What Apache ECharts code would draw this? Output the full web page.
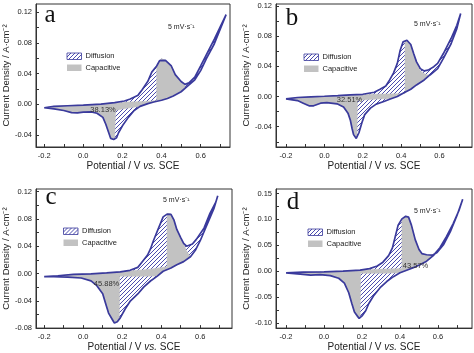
<!DOCTYPE html>
<html><head><meta charset="utf-8">
<script src="https://cdn.jsdelivr.net/npm/echarts@6/dist/echarts.min.js"></script>
<style>html,body{margin:0;padding:0;background:#fff}#c{width:474px;height:353px}</style>
</head><body><div id="c"></div>
<script>
// ---------- data (potential V, current density A/cm2) ----------
const aFwd = [[-0.20,-0.0044],[-0.15,-0.0027],[-0.08,-0.0018],[0.00,-0.0009],[0.09,0.0004],[0.16,0.0022],[0.21,0.0044],[0.24,0.007],[0.28,0.012],[0.30,0.0187],[0.33,0.030],[0.35,0.042],[0.375,0.050],[0.38,0.052],[0.39,0.057],[0.40,0.0596],[0.42,0.0573],[0.45,0.050],[0.47,0.0387],[0.50,0.0298],[0.52,0.026],[0.54,0.028],[0.57,0.0356],[0.60,0.050],[0.63,0.065],[0.67,0.085],[0.70,0.101],[0.73,0.117]];
const aRev = [[0.73,0.117],[0.70,0.098],[0.67,0.079],[0.63,0.060],[0.60,0.044],[0.57,0.032],[0.53,0.023],[0.50,0.0164],[0.46,0.011],[0.43,0.0076],[0.40,0.0053],[0.36,0.003],[0.33,0.001],[0.29,-0.0027],[0.26,-0.008],[0.23,-0.017],[0.20,-0.028],[0.18,-0.037],[0.17,-0.0436],[0.155,-0.0458],[0.14,-0.0444],[0.13,-0.037],[0.115,-0.026],[0.10,-0.017],[0.07,-0.0116],[0.04,-0.0098],[0.00,-0.0102],[-0.03,-0.011],[-0.06,-0.0107],[-0.10,-0.008],[-0.15,-0.0058],[-0.20,-0.0044]];
const aCapFwd = [[-0.20,-0.0044],[-0.15,-0.0027],[-0.08,-0.0018],[0.00,-0.0009],[0.09,0.0004],[0.16,0.0022],[0.22,0.003],[0.28,0.0035],[0.33,0.004],[0.375,0.005],[0.375,0.050],[0.38,0.052],[0.39,0.057],[0.40,0.0596],[0.42,0.0573],[0.45,0.050],[0.47,0.0387],[0.50,0.0298],[0.52,0.026]];
const aCapRev = [[0.52,0.021],[0.50,0.0164],[0.46,0.011],[0.43,0.0076],[0.40,0.0053],[0.36,0.003],[0.33,0.001],[0.30,-0.002],[0.25,-0.004],[0.20,-0.006],[0.165,-0.008],[0.16,-0.0455],[0.155,-0.0458],[0.14,-0.0444],[0.13,-0.037],[0.115,-0.026],[0.10,-0.017],[0.07,-0.0116],[0.04,-0.0098],[0.00,-0.0102],[-0.03,-0.011],[-0.06,-0.0107],[-0.10,-0.008],[-0.15,-0.0058],[-0.20,-0.0044]];

const bFwd = [[-0.20,-0.003],[-0.14,-0.0013],[-0.07,-0.0004],[0.00,0.0004],[0.07,0.0013],[0.135,0.0022],[0.20,0.003],[0.26,0.0057],[0.29,0.0097],[0.32,0.014],[0.34,0.022],[0.36,0.031],[0.38,0.044],[0.395,0.0615],[0.41,0.0725],[0.42,0.0738],[0.43,0.0747],[0.45,0.069],[0.465,0.057],[0.48,0.046],[0.50,0.037],[0.52,0.034],[0.54,0.035],[0.57,0.0396],[0.59,0.044],[0.62,0.057],[0.66,0.077],[0.69,0.0945],[0.71,0.11]];
const bRev = [[0.71,0.11],[0.69,0.09],[0.66,0.070],[0.62,0.0505],[0.59,0.037],[0.55,0.0286],[0.52,0.022],[0.48,0.0154],[0.45,0.0097],[0.41,0.0044],[0.38,0.0],[0.34,-0.0035],[0.31,-0.0066],[0.27,-0.010],[0.24,-0.0154],[0.21,-0.024],[0.195,-0.035],[0.18,-0.048],[0.166,-0.0555],[0.152,-0.0505],[0.144,-0.042],[0.135,-0.031],[0.123,-0.022],[0.10,-0.014],[0.066,-0.0097],[0.013,-0.008],[-0.02,-0.0088],[-0.056,-0.0123],[-0.08,-0.0123],[-0.11,-0.0088],[-0.14,-0.0053],[-0.20,-0.003]];
const bCapFwd = [[-0.20,-0.003],[-0.14,-0.0013],[-0.07,-0.0004],[0.00,0.0004],[0.07,0.0013],[0.135,0.0022],[0.17,0.0026],[0.25,0.003],[0.33,0.0035],[0.42,0.004],[0.42,0.0738],[0.43,0.0747],[0.45,0.069],[0.465,0.057],[0.48,0.046],[0.50,0.034],[0.53,0.029],[0.55,0.0286]];
const bCapRev = [[0.55,0.0286],[0.52,0.022],[0.48,0.0154],[0.45,0.0097],[0.41,0.0044],[0.38,0.0],[0.34,-0.0030],[0.30,-0.003],[0.24,-0.004],[0.172,-0.005],[0.17,-0.053],[0.166,-0.0555],[0.152,-0.0505],[0.144,-0.042],[0.135,-0.031],[0.123,-0.022],[0.10,-0.014],[0.066,-0.0097],[0.013,-0.008],[-0.02,-0.0088],[-0.056,-0.0123],[-0.08,-0.0123],[-0.11,-0.0088],[-0.14,-0.0053],[-0.20,-0.003]];

const cFwd = [[-0.20,-0.0047],[-0.13,-0.0033],[-0.05,-0.0014],[0.04,-0.0005],[0.12,0.0009],[0.19,0.0024],[0.24,0.0047],[0.28,0.009],[0.30,0.016],[0.33,0.027],[0.345,0.036],[0.36,0.048],[0.38,0.062],[0.40,0.076],[0.41,0.083],[0.43,0.087],[0.44,0.088],[0.45,0.0866],[0.465,0.0786],[0.48,0.0645],[0.50,0.0527],[0.515,0.0442],[0.53,0.040],[0.56,0.0433],[0.58,0.050],[0.62,0.0668],[0.65,0.088],[0.68,0.1045],[0.69,0.114]];
const cRev = [[0.69,0.114],[0.67,0.095],[0.635,0.0715],[0.60,0.048],[0.575,0.034],[0.55,0.0245],[0.515,0.0174],[0.48,0.0127],[0.45,0.008],[0.41,0.0033],[0.38,-0.0038],[0.345,-0.011],[0.31,-0.020],[0.28,-0.030],[0.24,-0.041],[0.215,-0.052],[0.19,-0.065],[0.175,-0.0706],[0.16,-0.0725],[0.15,-0.0696],[0.13,-0.058],[0.115,-0.0438],[0.10,-0.0296],[0.07,-0.0179],[0.04,-0.0108],[-0.01,-0.0066],[-0.08,-0.0052],[-0.15,-0.0047],[-0.20,-0.0047]];
const cCapFwd = [[-0.20,-0.0047],[-0.13,-0.0033],[-0.05,-0.0014],[0.04,-0.0005],[0.12,0.0009],[0.19,0.0024],[0.24,0.0040],[0.30,0.005],[0.36,0.007],[0.43,0.010],[0.43,0.087],[0.44,0.088],[0.45,0.0866],[0.465,0.0786],[0.48,0.0645],[0.50,0.0527],[0.515,0.0442],[0.53,0.033],[0.55,0.0245]];
const cCapRev = [[0.55,0.0245],[0.515,0.0174],[0.48,0.0127],[0.45,0.008],[0.41,0.0033],[0.38,-0.0038],[0.30,-0.004],[0.187,-0.004],[0.185,-0.067],[0.175,-0.0706],[0.16,-0.0725],[0.15,-0.0696],[0.13,-0.058],[0.115,-0.0438],[0.10,-0.0296],[0.07,-0.0179],[0.04,-0.0108],[-0.01,-0.0066],[-0.08,-0.0052],[-0.15,-0.0047],[-0.20,-0.0047]];

const dFwd = [[-0.20,-0.0031],[-0.11,-0.0019],[0.00,-0.0012],[0.10,0.0],[0.19,0.0019],[0.24,0.005],[0.28,0.010],[0.31,0.0174],[0.34,0.030],[0.36,0.045],[0.375,0.067],[0.39,0.089],[0.41,0.101],[0.43,0.106],[0.445,0.1045],[0.46,0.089],[0.48,0.061],[0.50,0.042],[0.515,0.034],[0.54,0.0317],[0.57,0.031],[0.595,0.036],[0.63,0.0516],[0.665,0.0765],[0.70,0.1076],[0.73,0.139]];
const dRev = [[0.73,0.139],[0.71,0.117],[0.68,0.092],[0.645,0.067],[0.61,0.0454],[0.575,0.030],[0.54,0.0193],[0.505,0.0124],[0.47,0.0068],[0.435,0.0019],[0.40,-0.0031],[0.365,-0.0106],[0.33,-0.020],[0.295,-0.032],[0.26,-0.048],[0.235,-0.063],[0.22,-0.076],[0.20,-0.0864],[0.185,-0.0914],[0.175,-0.0896],[0.16,-0.079],[0.147,-0.0634],[0.13,-0.0417],[0.107,-0.023],[0.077,-0.0137],[0.033,-0.0087],[-0.02,-0.0068],[-0.07,-0.0075],[-0.125,-0.0056],[-0.20,-0.0031]];
const dCapFwd = [[-0.20,-0.0031],[-0.11,-0.0019],[0.00,-0.0012],[0.10,0.0],[0.19,0.0019],[0.25,0.003],[0.32,0.004],[0.41,0.005],[0.41,0.101],[0.43,0.106],[0.445,0.1045],[0.46,0.089],[0.48,0.061],[0.50,0.042],[0.515,0.034],[0.54,0.0317],[0.57,0.031]];
const dCapRev = [[0.575,0.030],[0.54,0.0193],[0.505,0.0124],[0.47,0.0068],[0.435,0.0019],[0.40,-0.0031],[0.32,-0.004],[0.25,-0.004],[0.192,-0.004],[0.19,-0.090],[0.185,-0.0914],[0.175,-0.0896],[0.16,-0.079],[0.147,-0.0634],[0.13,-0.0417],[0.107,-0.023],[0.077,-0.0137],[0.033,-0.0087],[-0.02,-0.0068],[-0.07,-0.0075],[-0.125,-0.0056],[-0.20,-0.0031]];

const panelLetters = ['a','b','c','d'];
const capPercent = ['38.13%','32.51%','45.88%','43.57%'];
const scanRate = '5 mV·s⁻¹';
const legendNames = ['Diffusion','Capacitive'];
const xMajor = [-0.2, 0, 0.2, 0.4, 0.6];
const xMinor = [-0.1, 0.1, 0.3, 0.5, 0.7];
const yMajorABC = [-0.08, -0.04, 0, 0.04, 0.08, 0.12];
const yMinorABC = [-0.06, -0.02, 0.02, 0.06, 0.10];
const yMajorD = [-0.10, -0.05, 0, 0.05, 0.10, 0.15];
const yMinorD = [-0.075, -0.025, 0.025, 0.075, 0.125];

// ---------- layout ----------
const FONT = '"Liberation Sans", Arial, sans-serif';
const LINE = '#3a3a9c';
const GRAY = '#c2c2c2';
const panels = [
  {fwd:aFwd, rev:aRev, cf:aCapFwd, cr:aCapRev, grid:{left:35,top:4,width:195,height:143}, x:[-0.242,0.75], y:[-0.0556,0.1308], yMaj:yMajorABC, yMin:yMinorABC,
   letter:[50,15.7], rate:[168,27.5], pct:[103,110], leg:[67,53]},
  {fwd:bFwd, rev:bRev, cf:bCapFwd, cr:bCapRev, grid:{left:276,top:4,width:196,height:143}, x:[-0.252,0.769], y:[-0.0669,0.1227], yMaj:yMajorABC, yMin:yMinorABC,
   letter:[292,18.7], rate:[414,24], pct:[349.5,99.5], leg:[304,54]},
  {fwd:cFwd, rev:cRev, cf:cCapFwd, cr:cCapRev, grid:{left:35,top:189,width:197,height:144}, x:[-0.242,0.763], y:[-0.08,0.1238], yMaj:yMajorABC, yMin:yMinorABC,
   letter:[51,197.7], rate:[163,200.5], pct:[106.5,283.5], leg:[63.5,228]},
  {fwd:dFwd, rev:dRev, cf:dCapFwd, cr:dCapRev, grid:{left:276,top:189,width:196,height:144}, x:[-0.253,0.779], y:[-0.11,0.1588], yMaj:yMajorD, yMin:yMinorD,
   letter:[293,202.7], rate:[414,211.5], pct:[415.5,265.5], leg:[308,229]}
];

function makeHatch(){
  const s = 4, c = document.createElement('canvas');
  c.width = s; c.height = s;
  const g = c.getContext('2d');
  g.fillStyle = '#ffffff'; g.fillRect(0,0,s,s);
  g.strokeStyle = '#4c4cae'; g.lineWidth = 1;
  g.beginPath();
  g.moveTo(0,s); g.lineTo(s,0);
  g.moveTo(-1,1); g.lineTo(1,-1);
  g.moveTo(s-1,s+1); g.lineTo(s+1,s-1);
  g.stroke();
  return c;
}
const HATCH = {image: makeHatch(), repeat: 'repeat'};

const grids = [], xAxes = [], yAxes = [], series = [], graphics = [];
panels.forEach((p, i) => {
  grids.push(Object.assign({show:true, borderColor:'#333', borderWidth:1, backgroundColor:'transparent'}, p.grid));
  xAxes.push({type:'value', gridIndex:i, min:p.x[0], max:p.x[1],
    name:'Potential / V {i|vs.} SCE', nameLocation:'middle', nameGap: i<2 ? 12 : 10,
    nameTextStyle:{fontSize:10, fontFamily:FONT, color:'#222', rich:{i:{fontStyle:'italic', fontSize:10, fontFamily:FONT, color:'#222'}}},
    axisLine:{show:true, onZero:false, lineStyle:{color:'#333', width:1}},
    axisTick:{show:true, inside:true, length:3, customValues: xMajor.concat(xMinor), lineStyle:{color:'#333'}},
    axisLabel:{customValues:xMajor, formatter:v=>v.toFixed(1), fontSize:7.5, fontFamily:FONT, color:'#222', margin:5},
    splitLine:{show:false}});
  yAxes.push({type:'value', gridIndex:i, min:p.y[0], max:p.y[1],
    name:'Current Density / A·cm⁻²', nameLocation:'middle', nameGap:21,
    nameTextStyle:{fontSize:9.5, fontFamily:FONT, color:'#222'},
    axisLine:{show:true, onZero:false, lineStyle:{color:'#333', width:1}},
    axisTick:{show:true, inside:true, length:3, customValues: p.yMaj.concat(p.yMin), lineStyle:{color:'#333'}},
    axisLabel:{customValues:p.yMaj, formatter:v=>v.toFixed(2), fontSize:7.5, fontFamily:FONT, color:'#222', margin:4},
    splitLine:{show:false}});
  const loop = p.fwd.concat(p.rev);
  const cap = p.cf.concat(p.cr);
  series.push({type:'custom', name:legendNames[0], coordinateSystem:'cartesian2d', xAxisIndex:i, yAxisIndex:i,
    data:[loop[0]], silent:true, z:1,
    renderItem:(params, api)=>({type:'polygon', shape:{points:loop.map(q=>api.coord(q))}, style:{fill:HATCH}})});
  series.push({type:'custom', name:legendNames[1], coordinateSystem:'cartesian2d', xAxisIndex:i, yAxisIndex:i,
    data:[cap[0]], silent:true, z:2,
    renderItem:(params, api)=>({type:'polygon', shape:{points:cap.map(q=>api.coord(q))}, style:{fill:GRAY, stroke:GRAY, lineWidth:0.5}})});
  series.push({type:'line', name:'CV', xAxisIndex:i, yAxisIndex:i, data:loop, showSymbol:false, z:3,
    lineStyle:{color:LINE, width:1.7}, silent:true});

  graphics.push({type:'text', x:p.letter[0], y:p.letter[1], z:10,
    style:{text:panelLetters[i], font:'25px "Liberation Serif", "Times New Roman", serif', fill:'#111', textAlign:'center', textVerticalAlign:'middle'}});
  graphics.push({type:'text', x:p.rate[0], y:p.rate[1], z:10,
    style:{text:scanRate, font:'7px '+FONT, fill:'#222', textAlign:'left', textVerticalAlign:'middle'}});
  graphics.push({type:'text', x:p.pct[0], y:p.pct[1], z:10,
    style:{text:capPercent[i], font:'7.5px '+FONT, fill:'#333', textAlign:'center', textVerticalAlign:'middle'}});
  const lx = p.leg[0], ly = p.leg[1];
  graphics.push({type:'rect', x:lx, y:ly, z:10, shape:{width:14.5, height:6.5}, style:{fill:HATCH, stroke:LINE, lineWidth:0.8}});
  graphics.push({type:'rect', x:lx, y:ly+11.5, z:10, shape:{width:14.5, height:6.5}, style:{fill:GRAY}});
  graphics.push({type:'text', x:lx+18.5, y:ly+3.3, z:10, style:{text:legendNames[0], font:'7.5px '+FONT, fill:'#222', textVerticalAlign:'middle'}});
  graphics.push({type:'text', x:lx+18.5, y:ly+14.8, z:10, style:{text:legendNames[1], font:'7.5px '+FONT, fill:'#222', textVerticalAlign:'middle'}});
});

const chart = echarts.init(document.getElementById('c'), null, {renderer:'canvas'});
chart.setOption({
  animation:false,
  backgroundColor:'#ffffff',
  grid:grids, xAxis:xAxes, yAxis:yAxes, series:series, graphic:graphics
});
</script></body></html>
